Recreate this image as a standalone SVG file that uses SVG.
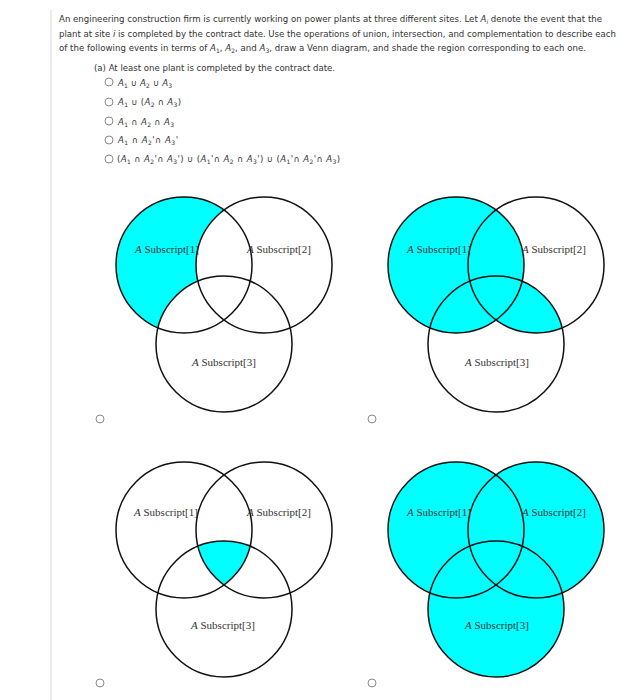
<svg xmlns="http://www.w3.org/2000/svg" width="643" height="700" viewBox="0 0 643 700">
<style>
.t{font-family:"DejaVu Sans","Liberation Sans",sans-serif;font-size:8.6px;fill:#333}
.it{font-style:italic}
.sub{font-size:6px;baseline-shift:-2px}
.radio{fill:#fff;stroke:#8a8a8a;stroke-width:1}
.ring{fill:none;stroke:#111;stroke-width:1.5}
.cy{fill:#00ffff}
.lbl{font-family:"Liberation Serif","DejaVu Serif",serif;font-size:11px;fill:#333}
</style>
<defs>
<clipPath id="clip2"><circle cx="80" cy="0" r="68"/></clipPath>
<clipPath id="clip3"><circle cx="40" cy="79" r="68"/></clipPath>
</defs>
<rect width="643" height="700" fill="#fff"/>
<line x1="51" y1="10" x2="51" y2="700" stroke="#ebebeb" stroke-width="2"/>

<g id="question">
<text class="t" x="59" y="22" textLength="543" lengthAdjust="spacing">An engineering construction firm is currently working on power plants at three different sites. Let <tspan class="it">A</tspan><tspan class="sub it">i</tspan> denote the event that the</text>
<text class="t" x="59" y="37" textLength="557" lengthAdjust="spacing">plant at site <tspan class="it">i</tspan> is completed by the contract date. Use the operations of union, intersection, and complementation to describe each</text>
<text class="t" x="59" y="51" textLength="527" lengthAdjust="spacing">of the following events in terms of <tspan class="it">A</tspan><tspan class="sub">1</tspan>, <tspan class="it">A</tspan><tspan class="sub">2</tspan>, and <tspan class="it">A</tspan><tspan class="sub">3</tspan>, draw a Venn diagram, and shade the region corresponding to each one.</text>
<text class="t" x="94" y="71" textLength="241" lengthAdjust="spacing">(a) At least one plant is completed by the contract date.</text>
</g>

<g id="options">
<circle class="radio" cx="109" cy="82" r="4"/>
<text class="t" x="118" y="86" textLength="54" lengthAdjust="spacing"><tspan class="it">A</tspan><tspan class="sub">1</tspan> ∪ <tspan class="it">A</tspan><tspan class="sub">2</tspan> ∪ <tspan class="it">A</tspan><tspan class="sub">3</tspan></text>
<circle class="radio" cx="109" cy="102" r="4"/>
<text class="t" x="118" y="105" textLength="63" lengthAdjust="spacing"><tspan class="it">A</tspan><tspan class="sub">1</tspan> ∪ (<tspan class="it">A</tspan><tspan class="sub">2</tspan> ∩ <tspan class="it">A</tspan><tspan class="sub">3</tspan>)</text>
<circle class="radio" cx="109" cy="121" r="4"/>
<text class="t" x="118" y="125" textLength="56" lengthAdjust="spacing"><tspan class="it">A</tspan><tspan class="sub">1</tspan> ∩ <tspan class="it">A</tspan><tspan class="sub">2</tspan> ∩ <tspan class="it">A</tspan><tspan class="sub">3</tspan></text>
<circle class="radio" cx="109" cy="140" r="4"/>
<text class="t" x="118" y="143" textLength="60" lengthAdjust="spacing"><tspan class="it">A</tspan><tspan class="sub">1</tspan> ∩ <tspan class="it">A</tspan><tspan class="sub">2</tspan><tspan class="it">'</tspan>∩ <tspan class="it">A</tspan><tspan class="sub">3</tspan><tspan class="it">'</tspan></text>
<circle class="radio" cx="109" cy="159" r="4"/>
<text class="t" x="117" y="162" textLength="223" lengthAdjust="spacing">(<tspan class="it">A</tspan><tspan class="sub">1</tspan> ∩ <tspan class="it">A</tspan><tspan class="sub">2</tspan><tspan class="it">'</tspan>∩ <tspan class="it">A</tspan><tspan class="sub">3</tspan><tspan class="it">'</tspan>) ∪ (<tspan class="it">A</tspan><tspan class="sub">1</tspan><tspan class="it">'</tspan>∩ <tspan class="it">A</tspan><tspan class="sub">2</tspan> ∩ <tspan class="it">A</tspan><tspan class="sub">3</tspan><tspan class="it">'</tspan>) ∪ (<tspan class="it">A</tspan><tspan class="sub">1</tspan><tspan class="it">'</tspan>∩ <tspan class="it">A</tspan><tspan class="sub">2</tspan><tspan class="it">'</tspan>∩ <tspan class="it">A</tspan><tspan class="sub">3</tspan>)</text>
</g>

<g id="venn1" transform="translate(184,265)">
<circle class="cy" cx="0" cy="0" r="68"/>
<circle fill="#fff" cx="80" cy="0" r="68"/>
<circle fill="#fff" cx="40" cy="79" r="68"/>
<circle class="ring" cx="0" cy="0" r="68"/>
<circle class="ring" cx="80" cy="0" r="68"/>
<circle class="ring" cx="40" cy="79" r="68"/>
<text class="lbl" x="-49" y="-12"><tspan class="it">A</tspan> Subscript[1]</text>
<text class="lbl" x="63" y="-12"><tspan class="it">A</tspan> Subscript[2]</text>
<text class="lbl" x="8" y="101"><tspan class="it">A</tspan> Subscript[3]</text>
</g>

<g id="venn2" transform="translate(456,265)">
<circle class="cy" cx="0" cy="0" r="68"/>
<g clip-path="url(#clip3)"><circle class="cy" cx="80" cy="0" r="68"/></g>
<circle class="ring" cx="0" cy="0" r="68"/>
<circle class="ring" cx="80" cy="0" r="68"/>
<circle class="ring" cx="40" cy="79" r="68"/>
<text class="lbl" x="-49" y="-12"><tspan class="it">A</tspan> Subscript[1]</text>
<text class="lbl" x="66" y="-12"><tspan class="it">A</tspan> Subscript[2]</text>
<text class="lbl" x="9" y="101"><tspan class="it">A</tspan> Subscript[3]</text>
</g>

<g id="venn3" transform="translate(184,530)">
<g clip-path="url(#clip3)"><g clip-path="url(#clip2)"><circle class="cy" cx="0" cy="0" r="68"/></g></g>
<circle class="ring" cx="0" cy="0" r="68"/>
<circle class="ring" cx="80" cy="0" r="68"/>
<circle class="ring" cx="40" cy="79" r="68"/>
<text class="lbl" x="-50" y="-14"><tspan class="it">A</tspan> Subscript[1]</text>
<text class="lbl" x="63" y="-14"><tspan class="it">A</tspan> Subscript[2]</text>
<text class="lbl" x="7" y="99"><tspan class="it">A</tspan> Subscript[3]</text>
</g>

<g id="venn4" transform="translate(456,530)">
<circle class="cy" cx="0" cy="0" r="68"/>
<circle class="cy" cx="80" cy="0" r="68"/>
<circle class="cy" cx="40" cy="79" r="68"/>
<circle class="ring" cx="0" cy="0" r="68"/>
<circle class="ring" cx="80" cy="0" r="68"/>
<circle class="ring" cx="40" cy="79" r="68"/>
<text class="lbl" x="-49" y="-14"><tspan class="it">A</tspan> Subscript[1]</text>
<text class="lbl" x="66" y="-14"><tspan class="it">A</tspan> Subscript[2]</text>
<text class="lbl" x="9" y="99"><tspan class="it">A</tspan> Subscript[3]</text>
</g>

<g id="choices">
<circle class="radio" cx="100" cy="419" r="4"/>
<circle class="radio" cx="372" cy="419" r="4"/>
<circle class="radio" cx="100" cy="683" r="4"/>
<circle class="radio" cx="372" cy="683" r="4"/>
</g>
</svg>
